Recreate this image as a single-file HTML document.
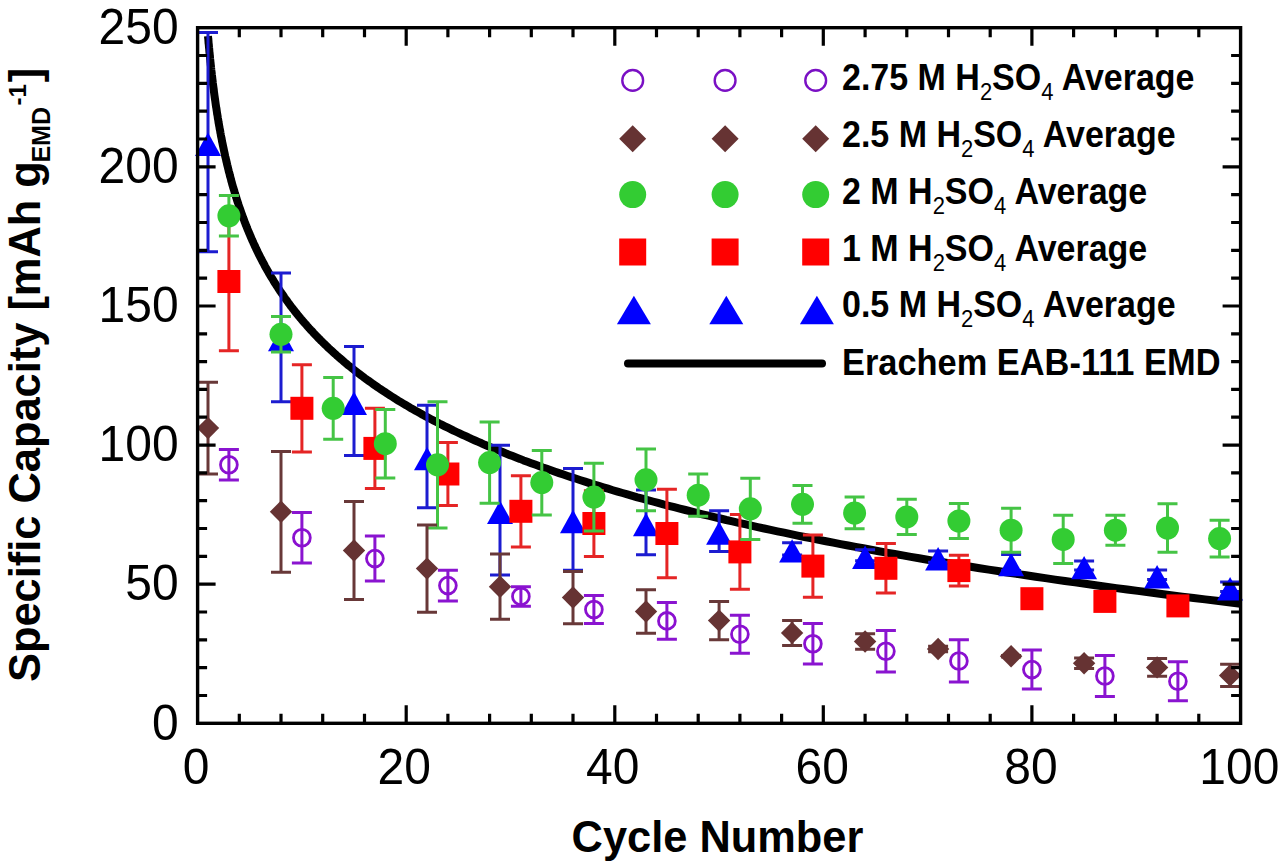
<!DOCTYPE html>
<html><head><meta charset="utf-8"><title>Specific Capacity vs Cycle Number</title>
<style>html,body{margin:0;padding:0;background:#fff;width:1280px;height:862px;overflow:hidden}svg{display:block}</style>
</head><body>
<svg width="1280" height="862" viewBox="0 0 1280 862">
<style>
text{font-family:"Liberation Sans",sans-serif;fill:#000}
.n{font-size:48px}
.t{font-size:43.4px;font-weight:bold}
.l{font-size:34px;font-weight:bold}
.sub{font-size:22px;font-weight:normal}
.ts{font-size:25px;font-weight:bold}
.tp{font-size:24px;font-weight:bold}
</style>
<rect width="1280" height="862" fill="#fff"/>
<path d="M208.0 36.1 L208.1 37.5 L208.3 38.9 L208.4 40.3 L208.5 41.7 L208.6 43.2 L208.8 44.6 L208.9 46.0 L209.0 47.4 L209.2 48.8 L209.3 50.3 L209.4 51.7 L209.6 53.1 L209.7 54.5 L209.9 55.9 L210.0 57.4 L210.1 58.8 L210.3 60.2 L210.4 61.6 L210.6 63.0 L210.7 64.5 L210.9 65.9 L211.0 67.3 L211.2 68.7 L211.3 70.1 L211.5 71.5 L211.7 73.0 L211.8 74.4 L212.0 75.8 L212.2 77.2 L212.3 78.6 L212.5 80.1 L212.7 81.5 L212.8 82.9 L213.0 84.3 L213.2 85.7 L213.4 87.2 L213.6 88.6 L213.8 90.0 L213.9 91.4 L214.1 92.8 L214.3 94.3 L214.5 95.7 L214.7 97.1 L214.9 98.5 L215.1 99.9 L215.3 101.3 L215.5 102.8 L215.7 104.2 L215.9 105.6 L216.1 107.0 L216.4 108.4 L216.6 109.9 L216.8 111.3 L217.0 112.7 L217.2 114.1 L217.5 115.5 L217.7 117.0 L217.9 118.4 L218.2 119.8 L218.4 121.2 L218.6 122.6 L218.9 124.1 L219.1 125.5 L219.4 126.9 L219.6 128.3 L219.9 129.7 L220.2 131.1 L220.4 132.6 L220.7 134.0 L220.9 135.4 L221.2 136.8 L221.5 138.2 L221.8 139.7 L222.0 141.1 L222.3 142.5 L222.6 143.9 L222.9 145.3 L223.2 146.8 L223.5 148.2 L223.8 149.6 L224.1 151.0 L224.4 152.4 L224.7 153.9 L225.0 155.3 L225.3 156.7 L225.7 158.1 L226.0 159.5 L226.3 160.9 L226.7 162.4 L227.0 163.8 L227.3 165.2 L227.7 166.6 L228.0 168.0 L228.4 169.5 L228.7 170.9 L229.1 172.3 L229.5 173.7 L229.8 175.1 L230.2 176.6 L230.6 178.0 L231.0 179.4 L231.3 180.8 L231.7 182.2 L232.1 183.7 L232.5 185.1 L232.9 186.5 L233.3 187.9 L233.8 189.3 L234.2 190.7 L234.6 192.2 L235.0 193.6 L235.5 195.0 L235.9 196.4 L236.3 197.8 L236.8 199.3 L237.2 200.7 L237.7 202.1 L238.2 203.5 L238.6 204.9 L239.1 206.4 L239.6 207.8 L240.1 209.2 L240.6 210.6 L241.1 212.0 L241.6 213.5 L242.1 214.9 L242.6 216.3 L243.1 217.7 L243.7 219.1 L244.2 220.5 L244.7 222.0 L245.3 223.4 L245.8 224.8 L246.4 226.2 L246.9 227.6 L247.5 229.1 L248.1 230.5 L248.7 231.9 L249.3 233.3 L249.9 234.7 L250.5 236.2 L251.1 237.6 L251.7 239.0 L252.3 240.4 L253.0 241.8 L253.6 243.3 L254.3 244.7 L254.9 246.1 L255.6 247.5 L256.2 248.9 L256.9 250.3 L257.6 251.8 L258.3 253.2 L259.0 254.6 L259.7 256.0 L260.4 257.4 L261.2 258.9 L261.9 260.3 L262.6 261.7 L263.4 263.1 L264.2 264.5 L264.9 266.0 L265.7 267.4 L266.5 268.8 L267.3 270.2 L268.1 271.6 L268.9 273.1 L269.8 274.5 L270.6 275.9 L271.4 277.3 L272.3 278.7 L273.2 280.1 L274.0 281.6 L274.9 283.0 L275.8 284.4 L276.7 285.8 L277.6 287.2 L278.6 288.7 L279.5 290.1 L280.4 291.5 L281.4 292.9 L282.4 294.3 L283.4 295.8 L284.3 297.2 L285.3 298.6 L286.4 300.0 L287.4 301.4 L288.4 302.9 L289.5 304.3 L290.5 305.7 L291.6 307.1 L292.7 308.5 L293.8 309.9 L294.9 311.4 L296.1 312.8 L297.2 314.2 L298.3 315.6 L299.5 317.0 L300.7 318.5 L301.9 319.9 L303.1 321.3 L304.3 322.7 L305.6 324.1 L306.8 325.6 L308.1 327.0 L309.3 328.4 L310.6 329.8 L312.0 331.2 L313.3 332.7 L314.6 334.1 L316.0 335.5 L317.3 336.9 L318.7 338.3 L320.1 339.7 L321.5 341.2 L323.0 342.6 L324.4 344.0 L325.9 345.4 L327.4 346.8 L328.9 348.3 L330.4 349.7 L332.0 351.1 L333.5 352.5 L335.1 353.9 L336.7 355.4 L338.3 356.8 L339.9 358.2 L341.6 359.6 L343.2 361.0 L344.9 362.5 L346.6 363.9 L348.3 365.3 L350.1 366.7 L351.9 368.1 L353.6 369.5 L355.4 371.0 L357.3 372.4 L359.1 373.8 L361.0 375.2 L362.9 376.6 L364.8 378.1 L366.7 379.5 L368.7 380.9 L370.7 382.3 L372.7 383.7 L374.7 385.2 L376.8 386.6 L378.8 388.0 L380.9 389.4 L383.1 390.8 L385.2 392.2 L387.4 393.7 L389.6 395.1 L391.8 396.5 L394.0 397.9 L396.3 399.3 L398.6 400.8 L400.9 402.2 L403.3 403.6 L405.7 405.0 L408.1 406.4 L410.5 407.9 L413.0 409.3 L415.5 410.7 L418.0 412.1 L420.6 413.5 L423.1 415.0 L425.8 416.4 L428.4 417.8 L431.1 419.2 L433.8 420.6 L436.5 422.0 L439.3 423.5 L442.1 424.9 L444.9 426.3 L447.8 427.7 L450.7 429.1 L453.6 430.6 L456.6 432.0 L459.6 433.4 L462.6 434.8 L465.7 436.2 L468.8 437.7 L471.9 439.1 L475.1 440.5 L478.3 441.9 L481.6 443.3 L484.8 444.8 L488.2 446.2 L491.5 447.6 L494.9 449.0 L498.4 450.4 L501.9 451.8 L505.4 453.3 L508.9 454.7 L512.6 456.1 L516.2 457.5 L519.9 458.9 L523.6 460.4 L527.4 461.8 L531.2 463.2 L535.1 464.6 L539.0 466.0 L542.9 467.5 L546.9 468.9 L551.0 470.3 L555.1 471.7 L559.2 473.1 L563.4 474.6 L567.6 476.0 L571.9 477.4 L576.3 478.8 L580.6 480.2 L585.1 481.6 L589.6 483.1 L594.1 484.5 L598.7 485.9 L603.3 487.3 L608.0 488.7 L612.8 490.2 L617.6 491.6 L622.5 493.0 L627.4 494.4 L632.4 495.8 L637.4 497.3 L642.5 498.7 L647.6 500.1 L652.8 501.5 L658.1 502.9 L663.4 504.4 L668.8 505.8 L674.3 507.2 L679.8 508.6 L685.4 510.0 L691.0 511.4 L696.8 512.9 L702.5 514.3 L708.4 515.7 L714.3 517.1 L720.3 518.5 L726.3 520.0 L732.5 521.4 L738.7 522.8 L744.9 524.2 L751.3 525.6 L757.7 527.1 L764.2 528.5 L770.7 529.9 L777.4 531.3 L784.1 532.7 L790.9 534.2 L797.7 535.6 L804.7 537.0 L811.7 538.4 L818.8 539.8 L826.0 541.2 L833.3 542.7 L840.6 544.1 L848.1 545.5 L855.6 546.9 L863.2 548.3 L871.0 549.8 L878.7 551.2 L886.6 552.6 L894.6 554.0 L902.7 555.4 L910.9 556.9 L919.1 558.3 L927.5 559.7 L935.9 561.1 L944.5 562.5 L953.1 564.0 L961.9 565.4 L970.7 566.8 L979.7 568.2 L988.7 569.6 L997.9 571.0 L1007.1 572.5 L1016.5 573.9 L1026.0 575.3 L1035.6 576.7 L1045.3 578.1 L1055.1 579.6 L1065.0 581.0 L1075.1 582.4 L1085.3 583.8 L1095.5 585.2 L1105.9 586.7 L1116.4 588.1 L1127.1 589.5 L1137.8 590.9 L1148.7 592.3 L1159.7 593.8 L1170.9 595.2 L1182.2 596.6 L1193.6 598.0 L1205.1 599.4 L1216.8 600.8 L1228.6 602.3 L1240.5 603.7" stroke="#000" stroke-width="8" fill="none" stroke-linejoin="round"/>
<path d="M208.0 32.5V251.7M198.0 32.5H218.0M198.0 251.7H218.0" stroke="#1c1cd0" stroke-width="3.0" fill="none"/>
<path d="M281.0 273.1V401.7M271.0 273.1H291.0M271.0 401.7H291.0" stroke="#1c1cd0" stroke-width="3.0" fill="none"/>
<path d="M354.0 346.6V455.6M344.0 346.6H364.0M344.0 455.6H364.0" stroke="#1c1cd0" stroke-width="3.0" fill="none"/>
<path d="M427.0 405.3V507.7M417.0 405.3H437.0M417.0 507.7H437.0" stroke="#1c1cd0" stroke-width="3.0" fill="none"/>
<path d="M500.0 445.3V575.0M490.0 445.3H510.0M490.0 575.0H510.0" stroke="#1c1cd0" stroke-width="3.0" fill="none"/>
<path d="M573.0 468.4V570.3M563.0 468.4H583.0M563.0 570.3H583.0" stroke="#1c1cd0" stroke-width="3.0" fill="none"/>
<path d="M646.0 490.1V554.7M636.0 490.1H656.0M636.0 554.7H656.0" stroke="#1c1cd0" stroke-width="3.0" fill="none"/>
<path d="M719.1 510.7V551.4M709.1 510.7H729.1M709.1 551.4H729.1" stroke="#1c1cd0" stroke-width="3.0" fill="none"/>
<path d="M792.1 542.7V555.0M782.1 542.7H802.1M782.1 555.0H802.1" stroke="#1c1cd0" stroke-width="3.0" fill="none"/>
<path d="M865.1 549.7V560.8M855.1 549.7H875.1M855.1 560.8H875.1" stroke="#1c1cd0" stroke-width="3.0" fill="none"/>
<path d="M938.1 551.1V562.2M928.1 551.1H948.1M928.1 562.2H948.1" stroke="#1c1cd0" stroke-width="3.0" fill="none"/>
<path d="M1011.1 554.4V570.6M1001.1 554.4H1021.1M1001.1 570.6H1021.1" stroke="#1c1cd0" stroke-width="3.0" fill="none"/>
<path d="M1084.1 561.1V570.0M1074.1 561.1H1094.1M1074.1 570.0H1094.1" stroke="#1c1cd0" stroke-width="3.0" fill="none"/>
<path d="M1157.1 570.0V579.5M1147.1 570.0H1167.1M1147.1 579.5H1167.1" stroke="#1c1cd0" stroke-width="3.0" fill="none"/>
<path d="M1230.1 582.0V591.4M1220.1 582.0H1240.1M1220.1 591.4H1240.1" stroke="#1c1cd0" stroke-width="3.0" fill="none"/>
<path d="M208.0 132.5L221.0 155.9L195.0 155.9Z" fill="#0000ff"/>
<path d="M281.0 327.8L294.0 351.2L268.0 351.2Z" fill="#0000ff"/>
<path d="M354.0 391.5L367.0 414.9L341.0 414.9Z" fill="#0000ff"/>
<path d="M427.0 446.9L440.0 470.3L414.0 470.3Z" fill="#0000ff"/>
<path d="M500.0 500.6L513.0 524.0L487.0 524.0Z" fill="#0000ff"/>
<path d="M573.0 509.8L586.0 533.2L560.0 533.2Z" fill="#0000ff"/>
<path d="M646.0 512.8L659.0 536.2L633.0 536.2Z" fill="#0000ff"/>
<path d="M719.1 521.4L732.1 544.8L706.1 544.8Z" fill="#0000ff"/>
<path d="M792.1 539.2L805.1 562.6L779.1 562.6Z" fill="#0000ff"/>
<path d="M865.1 545.6L878.1 569.0L852.1 569.0Z" fill="#0000ff"/>
<path d="M938.1 547.0L951.1 570.4L925.1 570.4Z" fill="#0000ff"/>
<path d="M1011.1 552.9L1024.1 576.3L998.1 576.3Z" fill="#0000ff"/>
<path d="M1084.1 555.9L1097.1 579.3L1071.1 579.3Z" fill="#0000ff"/>
<path d="M1157.1 565.1L1170.1 588.5L1144.1 588.5Z" fill="#0000ff"/>
<path d="M1230.1 577.1L1243.1 600.5L1217.1 600.5Z" fill="#0000ff"/>
<path d="M228.9 212.2V350.8M218.9 212.2H238.9M218.9 350.8H238.9" stroke="#e52525" stroke-width="3.0" fill="none"/>
<path d="M301.9 364.7V452.0M291.9 364.7H311.9M291.9 452.0H311.9" stroke="#e52525" stroke-width="3.0" fill="none"/>
<path d="M374.9 408.3V488.5M364.9 408.3H384.9M364.9 488.5H384.9" stroke="#e52525" stroke-width="3.0" fill="none"/>
<path d="M447.9 442.6V505.4M437.9 442.6H457.9M437.9 505.4H457.9" stroke="#e52525" stroke-width="3.0" fill="none"/>
<path d="M520.9 475.7V546.9M510.9 475.7H530.9M510.9 546.9H530.9" stroke="#e52525" stroke-width="3.0" fill="none"/>
<path d="M593.9 490.7V556.4M583.9 490.7H603.9M583.9 556.4H603.9" stroke="#e52525" stroke-width="3.0" fill="none"/>
<path d="M666.9 489.3V577.8M656.9 489.3H676.9M656.9 577.8H676.9" stroke="#e52525" stroke-width="3.0" fill="none"/>
<path d="M739.9 514.6V589.2M729.9 514.6H749.9M729.9 589.2H749.9" stroke="#e52525" stroke-width="3.0" fill="none"/>
<path d="M812.9 534.9V597.3M802.9 534.9H822.9M802.9 597.3H822.9" stroke="#e52525" stroke-width="3.0" fill="none"/>
<path d="M885.9 543.6V593.1M875.9 543.6H895.9M875.9 593.1H895.9" stroke="#e52525" stroke-width="3.0" fill="none"/>
<path d="M958.9 555.2V585.9M948.9 555.2H968.9M948.9 585.9H968.9" stroke="#e52525" stroke-width="3.0" fill="none"/>
<path d="M1031.9 593.1V604.2M1021.9 593.1H1041.9M1021.9 604.2H1041.9" stroke="#e52525" stroke-width="3.0" fill="none"/>
<path d="M1104.9 595.9V607.0M1094.9 595.9H1114.9M1094.9 607.0H1114.9" stroke="#e52525" stroke-width="3.0" fill="none"/>
<path d="M1177.9 600.3V611.5M1167.9 600.3H1187.9M1167.9 611.5H1187.9" stroke="#e52525" stroke-width="3.0" fill="none"/>
<rect x="217.4" y="270.0" width="23" height="23" fill="#ff0000"/>
<rect x="290.4" y="396.8" width="23" height="23" fill="#ff0000"/>
<rect x="363.4" y="436.9" width="23" height="23" fill="#ff0000"/>
<rect x="436.4" y="462.5" width="23" height="23" fill="#ff0000"/>
<rect x="509.4" y="499.8" width="23" height="23" fill="#ff0000"/>
<rect x="582.4" y="512.0" width="23" height="23" fill="#ff0000"/>
<rect x="655.4" y="522.0" width="23" height="23" fill="#ff0000"/>
<rect x="728.4" y="540.4" width="23" height="23" fill="#ff0000"/>
<rect x="801.4" y="554.6" width="23" height="23" fill="#ff0000"/>
<rect x="874.4" y="556.8" width="23" height="23" fill="#ff0000"/>
<rect x="947.4" y="559.1" width="23" height="23" fill="#ff0000"/>
<rect x="1020.4" y="587.2" width="23" height="23" fill="#ff0000"/>
<rect x="1093.4" y="589.9" width="23" height="23" fill="#ff0000"/>
<rect x="1166.4" y="594.4" width="23" height="23" fill="#ff0000"/>
<path d="M228.9 195.5V236.1M218.9 195.5H238.9M218.9 236.1H238.9" stroke="#45c445" stroke-width="3.0" fill="none"/>
<path d="M281.0 316.5V352.1M271.0 316.5H291.0M271.0 352.1H291.0" stroke="#45c445" stroke-width="3.0" fill="none"/>
<path d="M333.2 377.5V439.2M323.2 377.5H343.2M323.2 439.2H343.2" stroke="#45c445" stroke-width="3.0" fill="none"/>
<path d="M385.3 409.5V477.9M375.3 409.5H395.3M375.3 477.9H395.3" stroke="#45c445" stroke-width="3.0" fill="none"/>
<path d="M437.5 401.7V528.0M427.5 401.7H447.5M427.5 528.0H447.5" stroke="#45c445" stroke-width="3.0" fill="none"/>
<path d="M489.6 422.0V503.2M479.6 422.0H499.6M479.6 503.2H499.6" stroke="#45c445" stroke-width="3.0" fill="none"/>
<path d="M541.8 450.4V514.9M531.8 450.4H551.8M531.8 514.9H551.8" stroke="#45c445" stroke-width="3.0" fill="none"/>
<path d="M593.9 463.2V531.0M583.9 463.2H603.9M583.9 531.0H603.9" stroke="#45c445" stroke-width="3.0" fill="none"/>
<path d="M646.0 449.0V510.7M636.0 449.0H656.0M636.0 510.7H656.0" stroke="#45c445" stroke-width="3.0" fill="none"/>
<path d="M698.2 474.0V516.3M688.2 474.0H708.2M688.2 516.3H708.2" stroke="#45c445" stroke-width="3.0" fill="none"/>
<path d="M750.3 478.2V539.4M740.3 478.2H760.3M740.3 539.4H760.3" stroke="#45c445" stroke-width="3.0" fill="none"/>
<path d="M802.5 485.4V523.3M792.5 485.4H812.5M792.5 523.3H812.5" stroke="#45c445" stroke-width="3.0" fill="none"/>
<path d="M854.6 497.1V528.8M844.6 497.1H864.6M844.6 528.8H864.6" stroke="#45c445" stroke-width="3.0" fill="none"/>
<path d="M906.8 499.3V534.4M896.8 499.3H916.8M896.8 534.4H916.8" stroke="#45c445" stroke-width="3.0" fill="none"/>
<path d="M958.9 503.5V538.6M948.9 503.5H968.9M948.9 538.6H968.9" stroke="#45c445" stroke-width="3.0" fill="none"/>
<path d="M1011.1 508.2V552.2M1001.1 508.2H1021.1M1001.1 552.2H1021.1" stroke="#45c445" stroke-width="3.0" fill="none"/>
<path d="M1063.2 515.2V563.6M1053.2 515.2H1073.2M1053.2 563.6H1073.2" stroke="#45c445" stroke-width="3.0" fill="none"/>
<path d="M1115.4 515.2V545.2M1105.4 515.2H1125.4M1105.4 545.2H1125.4" stroke="#45c445" stroke-width="3.0" fill="none"/>
<path d="M1167.5 503.8V552.2M1157.5 503.8H1177.5M1157.5 552.2H1177.5" stroke="#45c445" stroke-width="3.0" fill="none"/>
<path d="M1219.6 520.2V556.9M1209.6 520.2H1229.6M1209.6 556.9H1229.6" stroke="#45c445" stroke-width="3.0" fill="none"/>
<circle cx="228.9" cy="215.8" r="11.5" fill="#33cc33"/>
<circle cx="281.0" cy="334.3" r="11.5" fill="#33cc33"/>
<circle cx="333.2" cy="408.3" r="11.5" fill="#33cc33"/>
<circle cx="385.3" cy="443.7" r="11.5" fill="#33cc33"/>
<circle cx="437.5" cy="464.8" r="11.5" fill="#33cc33"/>
<circle cx="489.6" cy="462.6" r="11.5" fill="#33cc33"/>
<circle cx="541.8" cy="482.6" r="11.5" fill="#33cc33"/>
<circle cx="593.9" cy="497.1" r="11.5" fill="#33cc33"/>
<circle cx="646.0" cy="479.8" r="11.5" fill="#33cc33"/>
<circle cx="698.2" cy="495.2" r="11.5" fill="#33cc33"/>
<circle cx="750.3" cy="508.8" r="11.5" fill="#33cc33"/>
<circle cx="802.5" cy="504.3" r="11.5" fill="#33cc33"/>
<circle cx="854.6" cy="513.0" r="11.5" fill="#33cc33"/>
<circle cx="906.8" cy="516.9" r="11.5" fill="#33cc33"/>
<circle cx="958.9" cy="521.0" r="11.5" fill="#33cc33"/>
<circle cx="1011.1" cy="530.2" r="11.5" fill="#33cc33"/>
<circle cx="1063.2" cy="539.4" r="11.5" fill="#33cc33"/>
<circle cx="1115.4" cy="530.2" r="11.5" fill="#33cc33"/>
<circle cx="1167.5" cy="528.0" r="11.5" fill="#33cc33"/>
<circle cx="1219.6" cy="538.6" r="11.5" fill="#33cc33"/>
<path d="M208.0 382.2V474.0M198.0 382.2H218.0M198.0 474.0H218.0" stroke="#683838" stroke-width="3.0" fill="none"/>
<path d="M281.0 451.5V572.2M271.0 451.5H291.0M271.0 572.2H291.0" stroke="#683838" stroke-width="3.0" fill="none"/>
<path d="M354.0 501.6V599.5M344.0 501.6H364.0M344.0 599.5H364.0" stroke="#683838" stroke-width="3.0" fill="none"/>
<path d="M427.0 524.9V612.3M417.0 524.9H437.0M417.0 612.3H437.0" stroke="#683838" stroke-width="3.0" fill="none"/>
<path d="M500.0 554.1V619.2M490.0 554.1H510.0M490.0 619.2H510.0" stroke="#683838" stroke-width="3.0" fill="none"/>
<path d="M573.0 571.4V623.7M563.0 571.4H583.0M563.0 623.7H583.0" stroke="#683838" stroke-width="3.0" fill="none"/>
<path d="M646.0 589.7V633.2M636.0 589.7H656.0M636.0 633.2H656.0" stroke="#683838" stroke-width="3.0" fill="none"/>
<path d="M719.1 601.4V639.8M709.1 601.4H729.1M709.1 639.8H729.1" stroke="#683838" stroke-width="3.0" fill="none"/>
<path d="M792.1 620.4V645.4M782.1 620.4H802.1M782.1 645.4H802.1" stroke="#683838" stroke-width="3.0" fill="none"/>
<path d="M865.1 633.7V649.3M855.1 633.7H875.1M855.1 649.3H875.1" stroke="#683838" stroke-width="3.0" fill="none"/>
<path d="M938.1 646.2V651.8M928.1 646.2H948.1M928.1 651.8H948.1" stroke="#683838" stroke-width="3.0" fill="none"/>
<path d="M1011.1 655.4V657.1M1001.1 655.4H1021.1M1001.1 657.1H1021.1" stroke="#683838" stroke-width="3.0" fill="none"/>
<path d="M1084.1 657.9V668.5M1074.1 657.9H1094.1M1074.1 668.5H1094.1" stroke="#683838" stroke-width="3.0" fill="none"/>
<path d="M1157.1 658.5V676.3M1147.1 658.5H1167.1M1147.1 676.3H1167.1" stroke="#683838" stroke-width="3.0" fill="none"/>
<path d="M1230.1 664.3V686.6M1220.1 664.3H1240.1M1220.1 686.6H1240.1" stroke="#683838" stroke-width="3.0" fill="none"/>
<path d="M208.0 416.9L219.2 428.1L208.0 439.3L196.8 428.1Z" fill="#663333"/>
<path d="M281.0 500.6L292.2 511.8L281.0 523.0L269.8 511.8Z" fill="#663333"/>
<path d="M354.0 539.3L365.2 550.5L354.0 561.7L342.8 550.5Z" fill="#663333"/>
<path d="M427.0 557.4L438.2 568.6L427.0 579.8L415.8 568.6Z" fill="#663333"/>
<path d="M500.0 575.5L511.2 586.7L500.0 597.9L488.8 586.7Z" fill="#663333"/>
<path d="M573.0 586.3L584.2 597.5L573.0 608.7L561.8 597.5Z" fill="#663333"/>
<path d="M646.0 600.3L657.2 611.5L646.0 622.7L634.8 611.5Z" fill="#663333"/>
<path d="M719.1 609.4L730.3 620.6L719.1 631.8L707.9 620.6Z" fill="#663333"/>
<path d="M792.1 621.7L803.3 632.9L792.1 644.1L780.9 632.9Z" fill="#663333"/>
<path d="M865.1 630.3L876.3 641.5L865.1 652.7L853.9 641.5Z" fill="#663333"/>
<path d="M938.1 637.8L949.3 649.0L938.1 660.2L926.9 649.0Z" fill="#663333"/>
<path d="M1011.1 645.0L1022.3 656.2L1011.1 667.4L999.9 656.2Z" fill="#663333"/>
<path d="M1084.1 652.0L1095.3 663.2L1084.1 674.4L1072.9 663.2Z" fill="#663333"/>
<path d="M1157.1 656.2L1168.3 667.4L1157.1 678.6L1145.9 667.4Z" fill="#663333"/>
<path d="M1230.1 664.2L1241.3 675.4L1230.1 686.6L1218.9 675.4Z" fill="#663333"/>
<path d="M228.9 449.5V480.1M218.9 449.5H238.9M218.9 480.1H238.9" stroke="#8a14d0" stroke-width="3.0" fill="none"/>
<path d="M301.9 512.4V563.0M291.9 512.4H311.9M291.9 563.0H311.9" stroke="#8a14d0" stroke-width="3.0" fill="none"/>
<path d="M374.9 536.1V581.1M364.9 536.1H384.9M364.9 581.1H384.9" stroke="#8a14d0" stroke-width="3.0" fill="none"/>
<path d="M447.9 570.3V600.9M437.9 570.3H457.9M437.9 600.9H457.9" stroke="#8a14d0" stroke-width="3.0" fill="none"/>
<path d="M520.9 586.7V606.2M510.9 586.7H530.9M510.9 606.2H530.9" stroke="#8a14d0" stroke-width="3.0" fill="none"/>
<path d="M593.9 595.6V623.4M583.9 595.6H603.9M583.9 623.4H603.9" stroke="#8a14d0" stroke-width="3.0" fill="none"/>
<path d="M666.9 602.5V639.3M656.9 602.5H676.9M656.9 639.3H676.9" stroke="#8a14d0" stroke-width="3.0" fill="none"/>
<path d="M739.9 615.3V653.2M729.9 615.3H749.9M729.9 653.2H749.9" stroke="#8a14d0" stroke-width="3.0" fill="none"/>
<path d="M812.9 623.4V664.0M802.9 623.4H822.9M802.9 664.0H822.9" stroke="#8a14d0" stroke-width="3.0" fill="none"/>
<path d="M885.9 630.4V672.1M875.9 630.4H895.9M875.9 672.1H895.9" stroke="#8a14d0" stroke-width="3.0" fill="none"/>
<path d="M958.9 639.8V682.1M948.9 639.8H968.9M948.9 682.1H968.9" stroke="#8a14d0" stroke-width="3.0" fill="none"/>
<path d="M1031.9 650.1V689.1M1021.9 650.1H1041.9M1021.9 689.1H1041.9" stroke="#8a14d0" stroke-width="3.0" fill="none"/>
<path d="M1104.9 655.4V696.6M1094.9 655.4H1114.9M1094.9 696.6H1114.9" stroke="#8a14d0" stroke-width="3.0" fill="none"/>
<path d="M1177.9 661.8V700.8M1167.9 661.8H1187.9M1167.9 700.8H1187.9" stroke="#8a14d0" stroke-width="3.0" fill="none"/>
<circle cx="228.9" cy="464.8" r="8.4" fill="none" stroke="#8a10d0" stroke-width="2.8"/>
<circle cx="301.9" cy="537.7" r="8.4" fill="none" stroke="#8a10d0" stroke-width="2.8"/>
<circle cx="374.9" cy="558.6" r="8.4" fill="none" stroke="#8a10d0" stroke-width="2.8"/>
<circle cx="447.9" cy="585.6" r="8.4" fill="none" stroke="#8a10d0" stroke-width="2.8"/>
<circle cx="520.9" cy="596.4" r="8.4" fill="none" stroke="#8a10d0" stroke-width="2.8"/>
<circle cx="593.9" cy="609.5" r="8.4" fill="none" stroke="#8a10d0" stroke-width="2.8"/>
<circle cx="666.9" cy="620.9" r="8.4" fill="none" stroke="#8a10d0" stroke-width="2.8"/>
<circle cx="739.9" cy="634.3" r="8.4" fill="none" stroke="#8a10d0" stroke-width="2.8"/>
<circle cx="812.9" cy="643.7" r="8.4" fill="none" stroke="#8a10d0" stroke-width="2.8"/>
<circle cx="885.9" cy="651.2" r="8.4" fill="none" stroke="#8a10d0" stroke-width="2.8"/>
<circle cx="958.9" cy="661.0" r="8.4" fill="none" stroke="#8a10d0" stroke-width="2.8"/>
<circle cx="1031.9" cy="669.6" r="8.4" fill="none" stroke="#8a10d0" stroke-width="2.8"/>
<circle cx="1104.9" cy="676.0" r="8.4" fill="none" stroke="#8a10d0" stroke-width="2.8"/>
<circle cx="1177.9" cy="681.3" r="8.4" fill="none" stroke="#8a10d0" stroke-width="2.8"/>
<rect x="197.6" y="27.7" width="1043.0" height="695.6" fill="none" stroke="#000" stroke-width="3.4"/>
<path d="M197.6 695.5h9.5M1240.6 695.5h-9.5M197.6 667.7h9.5M1240.6 667.7h-9.5M197.6 639.8h9.5M1240.6 639.8h-9.5M197.6 612.0h9.5M1240.6 612.0h-9.5M197.6 584.2h18M1240.6 584.2h-18M197.6 556.4h9.5M1240.6 556.4h-9.5M197.6 528.5h9.5M1240.6 528.5h-9.5M197.6 500.7h9.5M1240.6 500.7h-9.5M197.6 472.9h9.5M1240.6 472.9h-9.5M197.6 445.1h18M1240.6 445.1h-18M197.6 417.2h9.5M1240.6 417.2h-9.5M197.6 389.4h9.5M1240.6 389.4h-9.5M197.6 361.6h9.5M1240.6 361.6h-9.5M197.6 333.8h9.5M1240.6 333.8h-9.5M197.6 306.0h18M1240.6 306.0h-18M197.6 278.1h9.5M1240.6 278.1h-9.5M197.6 250.3h9.5M1240.6 250.3h-9.5M197.6 222.5h9.5M1240.6 222.5h-9.5M197.6 194.7h9.5M1240.6 194.7h-9.5M197.6 166.8h18M1240.6 166.8h-18M197.6 139.0h9.5M1240.6 139.0h-9.5M197.6 111.2h9.5M1240.6 111.2h-9.5M197.6 83.4h9.5M1240.6 83.4h-9.5M197.6 55.5h9.5M1240.6 55.5h-9.5M239.3 723.3v-9.5M239.3 27.7v9.5M281.0 723.3v-9.5M281.0 27.7v9.5M322.7 723.3v-9.5M322.7 27.7v9.5M364.5 723.3v-9.5M364.5 27.7v9.5M406.2 723.3v-18M406.2 27.7v18M447.9 723.3v-9.5M447.9 27.7v9.5M489.6 723.3v-9.5M489.6 27.7v9.5M531.3 723.3v-9.5M531.3 27.7v9.5M573.0 723.3v-9.5M573.0 27.7v9.5M614.8 723.3v-18M614.8 27.7v18M656.5 723.3v-9.5M656.5 27.7v9.5M698.2 723.3v-9.5M698.2 27.7v9.5M739.9 723.3v-9.5M739.9 27.7v9.5M781.6 723.3v-9.5M781.6 27.7v9.5M823.3 723.3v-18M823.3 27.7v18M865.1 723.3v-9.5M865.1 27.7v9.5M906.8 723.3v-9.5M906.8 27.7v9.5M948.5 723.3v-9.5M948.5 27.7v9.5M990.2 723.3v-9.5M990.2 27.7v9.5M1031.9 723.3v-18M1031.9 27.7v18M1073.6 723.3v-9.5M1073.6 27.7v9.5M1115.4 723.3v-9.5M1115.4 27.7v9.5M1157.1 723.3v-9.5M1157.1 27.7v9.5M1198.8 723.3v-9.5M1198.8 27.7v9.5" stroke="#000" stroke-width="3.2" fill="none"/>
<text transform="translate(178.6 739.5) scale(1 1.035)" text-anchor="end" class="n">0</text>
<text transform="translate(178.6 600.4) scale(1 1.035)" text-anchor="end" class="n">50</text>
<text transform="translate(178.6 461.3) scale(1 1.035)" text-anchor="end" class="n">100</text>
<text transform="translate(178.6 322.2) scale(1 1.035)" text-anchor="end" class="n">150</text>
<text transform="translate(178.6 183.0) scale(1 1.035)" text-anchor="end" class="n">200</text>
<text transform="translate(178.6 43.9) scale(1 1.035)" text-anchor="end" class="n">250</text>
<text transform="translate(196.1 784) scale(1 1.035)" text-anchor="middle" class="n">0</text>
<text transform="translate(404.2 784) scale(1 1.035)" text-anchor="middle" class="n">20</text>
<text transform="translate(612.8 784) scale(1 1.035)" text-anchor="middle" class="n">40</text>
<text transform="translate(822.3 784) scale(1 1.035)" text-anchor="middle" class="n">60</text>
<text transform="translate(1030.9 784) scale(1 1.035)" text-anchor="middle" class="n">80</text>
<text transform="translate(1239.3 784) scale(1 1.035)" text-anchor="middle" class="n">100</text>
<text transform="translate(717.5 851.6) scale(1 1.035)" text-anchor="middle" class="t">Cycle Number</text>
<text transform="translate(39.6 682.0) rotate(-90) scale(1 1.035)" class="t">Specific Capacity [mAh g</text>
<text transform="translate(50.3 162.6) rotate(-90) scale(1 1.035)" class="ts">EMD</text>
<text transform="translate(26.2 105.5) rotate(-90) scale(1 1.035)" class="tp">-1</text>
<text transform="translate(39.6 82.3) rotate(-90) scale(1 1.035)" class="t">]</text>
<circle cx="632.7" cy="80.4" r="10.4" fill="none" stroke="#7a10c4" stroke-width="2.4"/>
<circle cx="725.1" cy="80.4" r="10.4" fill="none" stroke="#7a10c4" stroke-width="2.4"/>
<circle cx="815.7" cy="80.4" r="10.4" fill="none" stroke="#7a10c4" stroke-width="2.4"/>
<text transform="translate(842 90.0) scale(1 1.06)" class="l">2.75 M H<tspan class="sub" dy="9.4">2</tspan><tspan dy="-9.4">SO</tspan><tspan class="sub" dy="9.4">4</tspan><tspan dy="-9.4"> Average</tspan></text>
<path d="M632.7 125.3L646.2 138.8L632.7 152.3L619.2 138.8Z" fill="#663333"/>
<path d="M725.1 125.3L738.6 138.8L725.1 152.3L711.6 138.8Z" fill="#663333"/>
<path d="M815.7 125.3L829.2 138.8L815.7 152.3L802.2 138.8Z" fill="#663333"/>
<text transform="translate(842 146.6) scale(1 1.06)" class="l">2.5 M H<tspan class="sub" dy="9.4">2</tspan><tspan dy="-9.4">SO</tspan><tspan class="sub" dy="9.4">4</tspan><tspan dy="-9.4"> Average</tspan></text>
<circle cx="632.7" cy="194.6" r="13.5" fill="#33cc33"/>
<circle cx="725.1" cy="194.6" r="13.5" fill="#33cc33"/>
<circle cx="815.7" cy="194.6" r="13.5" fill="#33cc33"/>
<text transform="translate(842 203.8) scale(1 1.06)" class="l">2 M H<tspan class="sub" dy="9.4">2</tspan><tspan dy="-9.4">SO</tspan><tspan class="sub" dy="9.4">4</tspan><tspan dy="-9.4"> Average</tspan></text>
<rect x="619.2" y="238.5" width="27" height="27" fill="#ff0000"/>
<rect x="711.6" y="238.5" width="27" height="27" fill="#ff0000"/>
<rect x="802.2" y="238.5" width="27" height="27" fill="#ff0000"/>
<text transform="translate(842 261.0) scale(1 1.06)" class="l">1 M H<tspan class="sub" dy="9.4">2</tspan><tspan dy="-9.4">SO</tspan><tspan class="sub" dy="9.4">4</tspan><tspan dy="-9.4"> Average</tspan></text>
<path d="M633.9 295.8L650.9 324.2L616.9 324.2Z" fill="#0000ff"/>
<path d="M726.3 295.8L743.3 324.2L709.3 324.2Z" fill="#0000ff"/>
<path d="M816.9 295.8L833.9 324.2L799.9 324.2Z" fill="#0000ff"/>
<text transform="translate(842 317.3) scale(1 1.06)" class="l">0.5 M H<tspan class="sub" dy="9.4">2</tspan><tspan dy="-9.4">SO</tspan><tspan class="sub" dy="9.4">4</tspan><tspan dy="-9.4"> Average</tspan></text>
<path d="M628 363.5H822" stroke="#000" stroke-width="8" stroke-linecap="round"/>
<text transform="translate(842 375.0) scale(1 1.06)" class="l" style="font-size:34.4px">Erachem EAB-111 EMD</text>
</svg>
</body></html>
